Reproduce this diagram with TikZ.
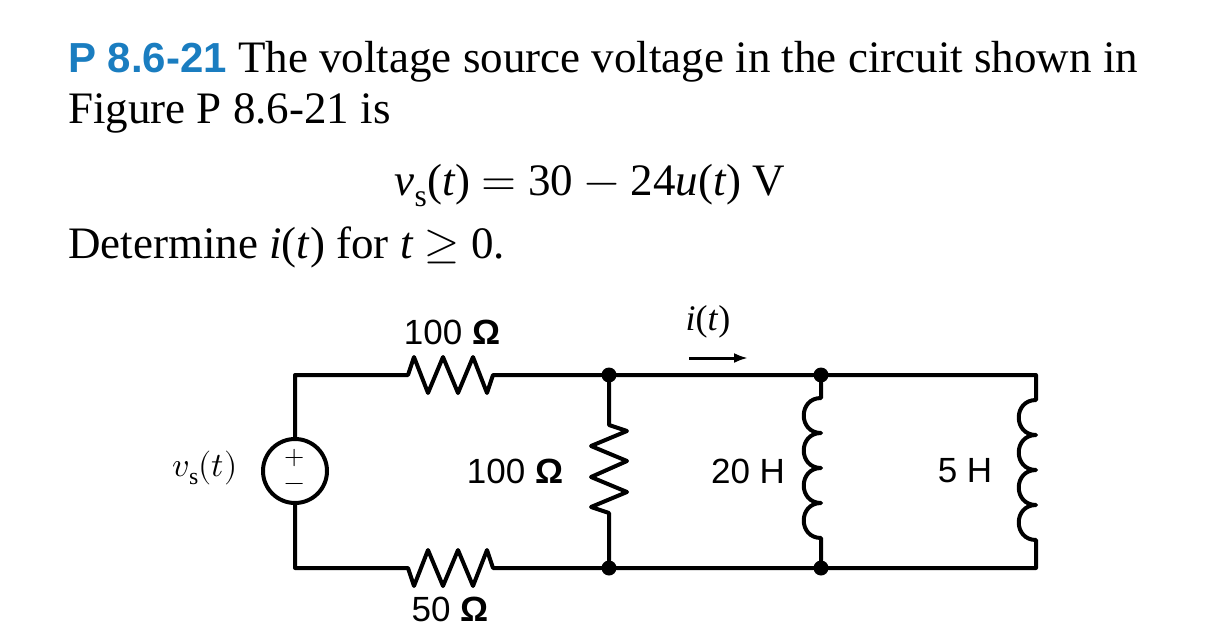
\documentclass[tikz,border=0pt]{standalone}
\usepackage{fontspec}
\setmainfont{Liberation Serif}
\newfontfamily\sansf{Liberation Sans}
\usepackage{unicode-math}
\setmathfont{Latin Modern Math}
\usetikzlibrary{arrows.meta}
\definecolor{pblue}{HTML}{1A7DC0}
\begin{document}
\begin{tikzpicture}[x=1pt,y=-1pt,
  wire/.style={line width=4pt,line cap=round,line join=round},
  dot/.style={circle,fill=black,inner sep=0pt,minimum size=15pt},
  lbl/.style={font=\sansf\fontsize{35}{38}\selectfont,inner sep=0pt},
  txt/.style={font=\fontsize{45}{48}\selectfont,inner sep=0pt,anchor=base west}]
\useasboundingbox (0,0) rectangle (1205,642);
% text
\node[txt] (t1) at (68,73) {{\sansf\bfseries\fontsize{42}{46}\selectfont\color{pblue}P 8.6-21} The voltage source voltage in the circuit shown in};
\node[txt] (t2) at (68,123) {Figure P 8.6-21 is};
\node[txt,anchor=base] (eq) at (590,195) {\textit{v}\textsubscript{s}(\textit{t}) $=$ 30 $-$ 24\textit{u}(\textit{t}) V};
\node[txt] (t3) at (68,258) {Determine \textit{i}(\textit{t}) for \textit{t} $\ge$ 0.};
% nodes
\coordinate (tl) at (295,375); \coordinate (bl) at (295,568);
\node[dot] (n1) at (609,375) {}; \node[dot] (n2) at (609,568) {};
\node[dot] (n3) at (821,375) {}; \node[dot] (n4) at (821,568) {};
\coordinate (tr) at (1036,375); \coordinate (br) at (1036,568);
\node[circle,draw,line width=4pt,minimum size=64pt,inner sep=0pt] (src) at (295,471) {};
\node[font=\fontsize{26}{26}\selectfont] at (295,458) {$+$};
\node[font=\fontsize{26}{26}\selectfont] at (295,487) {$-$};
% wires
\draw[wire] (src.north) -- (tl) -- (408,375) -- (414,357) -- (428,393) -- (443,357) -- (458,393) -- (473,357) -- (487,393) -- (493,375) -- (n1) -- (n3) -- (tr) -- (1036,400)
  .. controls (1013,400) and (1013,435) .. (1036,435)
  .. controls (1013,435) and (1013,470) .. (1036,470)
  .. controls (1013,470) and (1013,505) .. (1036,505)
  .. controls (1013,505) and (1013,540) .. (1036,540) -- (br) -- (n4) -- (n2) -- (493,568) -- (487,550) -- (473,586) -- (458,550) -- (443,586) -- (428,550) -- (414,586) -- (408,568) -- (bl) -- (src.south);
\draw[wire] (n1) -- (609,425) -- (627,431) -- (591,446) -- (627,461) -- (591,477) -- (627,492) -- (591,507) -- (609,513) -- (n2);
\draw[wire] (n3) -- (821,398)
  .. controls (798,398) and (798,433) .. (821,433)
  .. controls (798,433) and (798,468) .. (821,468)
  .. controls (798,468) and (798,503) .. (821,503)
  .. controls (798,503) and (798,538) .. (821,538) -- (n4);
% arrow
\coordinate (a1) at (689,358); \coordinate (a2) at (748,358);
\draw[line width=3pt,-{Latex[length=14pt,width=10pt]}] (a1) -- (a2);
% labels
\node[lbl] (l1) at (452,332) {100 {\bfseries Ω}};
\node[lbl] (l2) at (515,471) {100 {\bfseries Ω}};
\node[lbl] (l3) at (450,609) {50 {\bfseries Ω}};
\node[lbl] (l4) at (748,471) {20 H};
\node[lbl] (l5) at (965,471) {5 H};
\node[font=\fontsize{36}{38}\selectfont,inner sep=0pt] (li) at (708,322) {\textit{i}(\textit{t})};
\node[font=\fontsize{34}{36}\selectfont,inner sep=0pt] (lv) at (205,468) {$v_{\mathrm{s}}(t)$};
\end{tikzpicture}
\end{document}
